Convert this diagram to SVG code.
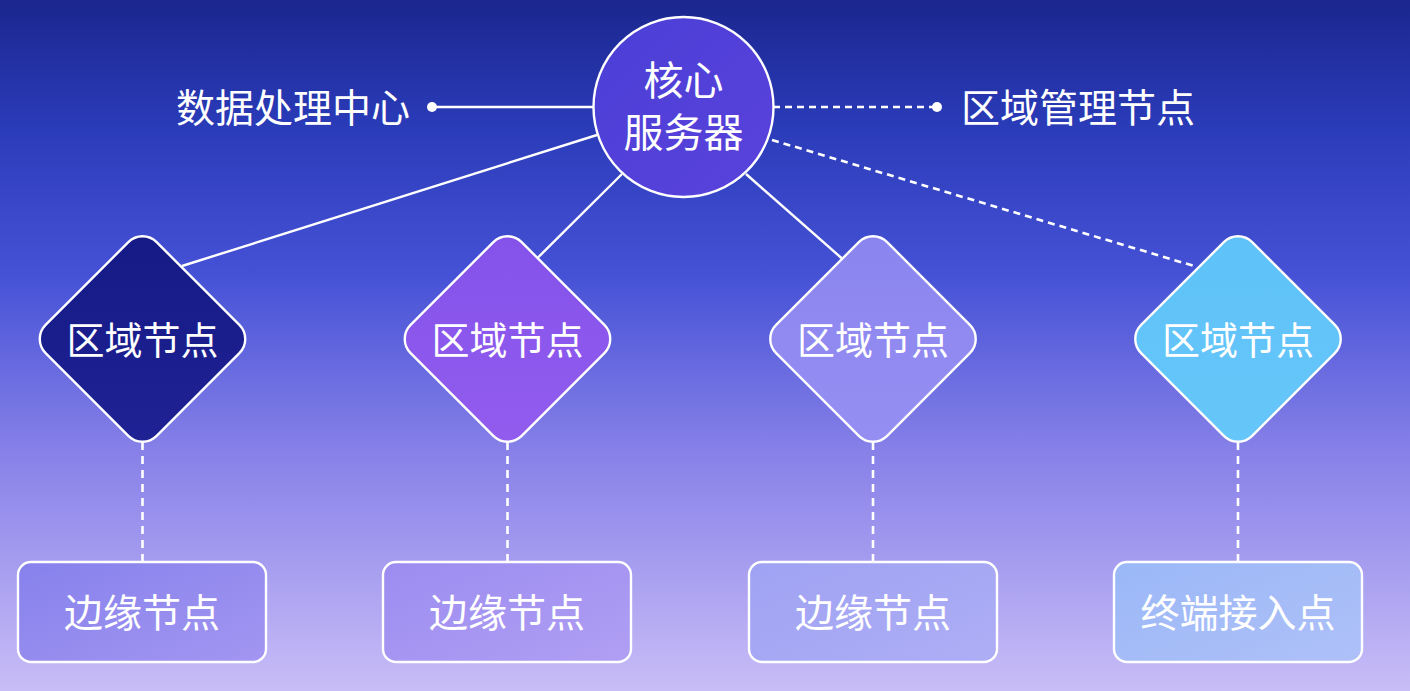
<svg xmlns="http://www.w3.org/2000/svg" width="1410" height="691" viewBox="0 0 1410 691">
  <defs>
    <linearGradient id="bg" x1="0" y1="0" x2="0" y2="1">
      <stop offset="0" stop-color="#1b268e"/>
      <stop offset="0.18" stop-color="#2a3bb8"/>
      <stop offset="0.4" stop-color="#4652d6"/>
      <stop offset="0.65" stop-color="#8680e8"/>
      <stop offset="1" stop-color="#c9bdf7"/>
    </linearGradient>
    <linearGradient id="gCore" x1="0" y1="0" x2="1" y2="1">
      <stop offset="0" stop-color="#4a3fd6"/>
      <stop offset="1" stop-color="#5a42dc"/>
    </linearGradient>
    <linearGradient id="gD1" x1="0" y1="0" x2="1" y2="1">
      <stop offset="0" stop-color="#161a86"/>
      <stop offset="1" stop-color="#1e2294"/>
    </linearGradient>
    <linearGradient id="gD2" x1="0" y1="0" x2="1" y2="1">
      <stop offset="0" stop-color="#8452ea"/>
      <stop offset="1" stop-color="#925cee"/>
    </linearGradient>
    <linearGradient id="gD3" x1="0" y1="0" x2="1" y2="1">
      <stop offset="0" stop-color="#8a84ef"/>
      <stop offset="1" stop-color="#968ff2"/>
    </linearGradient>
    <linearGradient id="gD4" x1="0" y1="0" x2="1" y2="1">
      <stop offset="0" stop-color="#5ec2f8"/>
      <stop offset="1" stop-color="#66c6f9"/>
    </linearGradient>
    <linearGradient id="gR1" x1="0" y1="0" x2="1" y2="1">
      <stop offset="0" stop-color="#8681ec"/>
      <stop offset="1" stop-color="#a396f1"/>
    </linearGradient>
    <linearGradient id="gR2" x1="0" y1="0" x2="1" y2="1">
      <stop offset="0" stop-color="#9c8cf0"/>
      <stop offset="1" stop-color="#b09ff3"/>
    </linearGradient>
    <linearGradient id="gR3" x1="0" y1="0" x2="1" y2="1">
      <stop offset="0" stop-color="#9fa2f3"/>
      <stop offset="1" stop-color="#aeaef5"/>
    </linearGradient>
    <linearGradient id="gR4" x1="0" y1="0" x2="1" y2="1">
      <stop offset="0" stop-color="#9ab8f7"/>
      <stop offset="1" stop-color="#afc0f8"/>
    </linearGradient>
  </defs>
  <style>
    .lbl { font-family: "Noto Sans CJK SC", "Noto Sans", sans-serif; fill: #ffffff; }
    .node { stroke: #ffffff; stroke-width: 2.4; }
    .solid { stroke: #ffffff; stroke-width: 2.4; fill: none; }
    .dash { stroke: #ffffff; stroke-width: 2.6; fill: none; stroke-dasharray: 7 5; }
    .vdash { stroke: #ffffff; stroke-width: 2.6; fill: none; stroke-dasharray: 8 6; }
    .dot { fill: #ffffff; }
  </style>

  <rect x="0" y="0" width="1410" height="691" fill="url(#bg)"/>

  <g id="connectors">
    <line class="solid" x1="432" y1="107" x2="594" y2="107"/>
    <circle class="dot" cx="432" cy="107" r="5"/>
    <line class="dash" x1="773" y1="107" x2="937" y2="107"/>
    <circle class="dot" cx="937" cy="107" r="5"/>
    <line class="solid" x1="597" y1="135" x2="182" y2="266"/>
    <line class="solid" x1="622" y1="174" x2="538" y2="257.5"/>
    <line class="solid" x1="746" y1="174" x2="842" y2="258.5"/>
    <line class="dash" x1="772" y1="140" x2="1194" y2="266"/>
    <line class="vdash" x1="142.5" y1="442" x2="142.5" y2="562"/>
    <line class="vdash" x1="507.5" y1="442" x2="507.5" y2="562"/>
    <line class="vdash" x1="873" y1="442" x2="873" y2="562"/>
    <line class="vdash" x1="1238" y1="442" x2="1238" y2="562"/>
  </g>

  <g id="label-data-center">
    <text class="lbl" x="410" y="122" font-size="39" text-anchor="end">数据处理中心</text>
  </g>
  <g id="label-region-mgmt">
    <text class="lbl" x="961" y="122" font-size="39">区域管理节点</text>
  </g>

  <g id="core">
    <circle class="node" cx="683.5" cy="107" r="90" fill="url(#gCore)"/>
    <text class="lbl" font-size="40" text-anchor="middle"><tspan x="683.5" y="95">核心</tspan><tspan x="683.5" y="146.5">服务器</tspan></text>
  </g>

  <g id="region1">
    <rect class="node" x="-78.5" y="-78.5" width="157" height="157" rx="20" fill="url(#gD1)" transform="translate(142.5,339) rotate(45)"/>
    <text class="lbl" x="142.5" y="354" font-size="38" text-anchor="middle">区域节点</text>
  </g>
  <g id="region2">
    <rect class="node" x="-78.5" y="-78.5" width="157" height="157" rx="20" fill="url(#gD2)" transform="translate(507.5,339) rotate(45)"/>
    <text class="lbl" x="507.5" y="354" font-size="38" text-anchor="middle">区域节点</text>
  </g>
  <g id="region3">
    <rect class="node" x="-78.5" y="-78.5" width="157" height="157" rx="20" fill="url(#gD3)" transform="translate(873,339) rotate(45)"/>
    <text class="lbl" x="873" y="354" font-size="38" text-anchor="middle">区域节点</text>
  </g>
  <g id="region4">
    <rect class="node" x="-78.5" y="-78.5" width="157" height="157" rx="20" fill="url(#gD4)" transform="translate(1238,339) rotate(45)"/>
    <text class="lbl" x="1238" y="354" font-size="38" text-anchor="middle">区域节点</text>
  </g>

  <g id="edge1">
    <rect class="node" x="18" y="562" width="248" height="100" rx="13" fill="url(#gR1)"/>
    <text class="lbl" x="142" y="627" font-size="39" text-anchor="middle">边缘节点</text>
  </g>
  <g id="edge2">
    <rect class="node" x="383" y="562" width="248" height="100" rx="13" fill="url(#gR2)"/>
    <text class="lbl" x="507" y="627" font-size="39" text-anchor="middle">边缘节点</text>
  </g>
  <g id="edge3">
    <rect class="node" x="749" y="562" width="248" height="100" rx="13" fill="url(#gR3)"/>
    <text class="lbl" x="873" y="627" font-size="39" text-anchor="middle">边缘节点</text>
  </g>
  <g id="terminal">
    <rect class="node" x="1114" y="562" width="248" height="100" rx="13" fill="url(#gR4)"/>
    <text class="lbl" x="1238" y="627" font-size="39" text-anchor="middle">终端接入点</text>
  </g>
</svg>
